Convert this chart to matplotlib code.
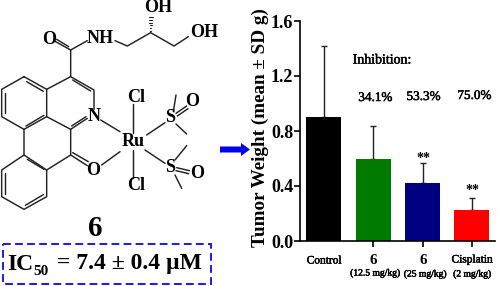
import numpy as np
import matplotlib
matplotlib.use("Agg")
import matplotlib.pyplot as plt
import matplotlib.patheffects as pe
from matplotlib.patches import Rectangle, FancyArrow

plt.rcParams['font.family'] = ['Liberation Serif', 'DejaVu Serif']

# bar chart data
groups = ["Control", "6", "6", "Cisplatin"]
doses = ["", "(12.5 mg/kg)", "(25 mg/kg)", "(2 mg/kg)"]
weight = [0.904, 0.596, 0.42, 0.228]
sd = [0.514, 0.243, 0.15, 0.082]
colors = ["#000000", "#007a00", "#000080", "#ff0000"]
inhibition = ["34.1%", "53.3%", "75.0%"]
stars = ["", "", "**", "**"]
yticks = [0.0, 0.4, 0.8, 1.2, 1.6]

W, H = 500, 286
fig = plt.figure(figsize=(W/100, H/100), dpi=100)

ax = fig.add_axes([299.5/W, (H-241)/H, 195.5/W, 220/H])
x = np.arange(4)
ax.bar(x, weight, width=0.71, color=colors, zorder=2)
ax.errorbar(x, weight, yerr=[np.zeros(4), sd], fmt='none', ecolor='#222222',
            elinewidth=1, capsize=2, capthick=1, zorder=1)
ax.set_xlim(-0.497, 3.47)
ax.set_ylim(0, 1.6)
ax.set_yticks(yticks)
ax.set_yticklabels(["%.1f" % v for v in yticks], fontsize=13, fontweight='bold')
ax.set_xticks(x[1:])
ax.set_xticklabels([])
ax.tick_params(axis='y', length=4, width=1.2, pad=0.5)
ax.tick_params(axis='x', length=4, width=1.2)
for s in ['top', 'right']:
    ax.spines[s].set_visible(False)
for s in ['left', 'bottom']:
    ax.spines[s].set_linewidth(1.2)

# overlay in pixels for the annotations and the structure
ov = fig.add_axes([0, 0, 1, 1])
ov.set_xlim(0, W)
ov.set_ylim(H, 0)
ov.axis('off')
ov.patch.set_alpha(0)

def T(px, py, s, size, **kw):
    kw.setdefault('ha', 'center')
    kw.setdefault('va', 'center')
    kw.setdefault('fontweight', 'bold')
    return ov.text(px, py, s, fontsize=size, **kw)

def N(px, py, s, size):
    # regular face with a thin stroke, narrower than the bold one
    t = T(px, py, s, size, fontweight='normal')
    t.set_path_effects([pe.withStroke(linewidth=0.35, foreground='black')])
    return t

T(260.5, 128, "Tumor Weight (mean ± SD g)", 13.8, rotation=90)
N(382, 60, "Inhibition:", 10)
for px, py, s in zip([375.5, 423.5, 474.5], [98, 97, 96], inhibition):
    N(px, py, s, 9.5)
T(423.5, 158, stars[2], 10)
T(472, 191, stars[3], 10)

N(324, 261, groups[0], 8.2)
T(373.5, 260, groups[1], 11)
T(423, 260, groups[2], 11)
N(472, 260, groups[3], 8.2)
N(375, 273, doses[1], 6.9)
N(425, 274, doses[2], 6.9)
N(472, 274, doses[3], 6.9)

# structure, coordinates taken in the 3x zoom
def B(pts, lw=1.05, c='#222222'):
    p = np.array(pts) / 3.0
    ov.plot(p[:, 0], p[:, 1], color=c, lw=lw, solid_capstyle='round')

B([(72,230),(140,268),(140,350),(72,388),(5,350),(5,268),(72,230)])
B([(140,268),(212,230),(282,270),(282,328)])
B([(140,350),(212,388),(262,355)])
B([(72,388),(72,465),(140,510),(212,465),(212,388)])
B([(72,465),(5,510),(5,590),(72,628),(140,590),(140,510)])
B([(80,245),(130,274)]); B([(16,278),(16,340)]); B([(78,378),(132,346)])
B([(218,240),(272,273)]); B([(215,378),(258,350)])
B([(82,478),(132,508)]); B([(16,518),(16,582)]); B([(76,616),(130,584)])
B([(212,230),(212,150),(262,122)])
B([(212,150),(165,124)]); B([(206,140),(170,118)])
B([(345,122),(382,138),(452,98),(522,138),(565,110)])
B([(212,465),(262,497)]); B([(218,458),(265,485)])
B([(302,360),(360,395)]); B([(305,495),(360,455)])
B([(398,312),(398,400)]); B([(398,450),(398,535)])
B([(440,405),(495,368)]); B([(435,450),(495,490)])
B([(520,335),(528,285)]); B([(528,372),(560,402)])
B([(528,340),(560,318)]); B([(532,348),(564,326)])
B([(525,480),(560,437)]); B([(525,525),(545,565)])
B([(530,503),(568,512)]); B([(528,512),(566,521)])
for k in range(6):
    # hashed bond to the OH
    yy = 92 - k*8
    B([(452-1-k*0.9, yy), (452+1+k*0.9, yy)], lw=0.8)

S = 13
T(146/3, 118/3, "O", S)
T(302/3, 116/3, "NH", S)
T(475/3, 22/3, "OH", S)
T(614/3, 98/3, "OH", S)
T(282/3, 350/3, "N", S)
T(280/3, 512/3, "O", S)
T(398/3, 424/3, "Ru", S)
T(408/3, 292/3, "Cl", S)
T(408/3, 558/3, "Cl", S)
T(510/3, 352/3, "S", S)
T(510/3, 502/3, "S", S)
T(577/3, 305/3, "O", S)
T(592/3, 520/3, "O", S)

T(285/3, 685/3, "6", 21)
ov.add_patch(Rectangle((3, 243.5), 208, 40, fill=False, ec='#1a1ae6', lw=1.4, ls=(0, (4, 2.2))))
T(7, 264, "IC", 17, ha='left')
T(41, 271.5, "50", 11)
T(202, 264, "= 7.4 ± 0.4 µM", 17, ha='right')

ov.add_patch(FancyArrow(220, 149.5, 30, 0, width=6, head_width=13, head_length=9,
                        length_includes_head=True, color='#0000ee', lw=0))

fig.savefig("out.png", dpi=100)
